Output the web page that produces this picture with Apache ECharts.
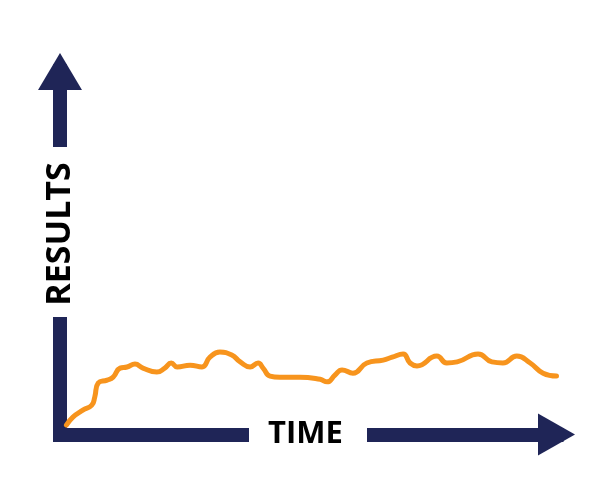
<!DOCTYPE html>
<html>
<head>
<meta charset="utf-8">
<script src="https://cdn.jsdelivr.net/npm/echarts@6/dist/echarts.min.js"></script>
<style>
html,body{margin:0;padding:0;background:#fff;}
#chart{width:610px;height:488px;}
</style>
</head>
<body>
<div id="chart"></div>
<script>
// Data (time units 0-100, results units 0-100)
var timeValues = [1.3, 2.6, 4.6, 6.4, 7.0, 7.7, 9.5, 10.7, 12.1, 13.5, 15.1, 16.7, 19.5, 21.1, 22.4, 23.6, 26.2, 28.6, 30.2, 32.2, 34.6, 36.3, 38.3, 39.9, 40.9, 42.3, 44.3, 48.3, 52.4, 53.8, 55.4, 56.8, 59.0, 61.8, 65.1, 66.9, 69.1, 70.5, 71.9, 75.9, 77.9, 80.0, 84.2, 87.0, 89.2, 92.0, 94.7, 97.3, 100.0];
var resultValues = [2.6, 4.8, 6.7, 8.1, 10.3, 14.2, 15.0, 15.8, 18.3, 18.6, 19.4, 18.3, 17.2, 18.3, 19.7, 18.6, 19.1, 18.6, 21.3, 22.7, 21.9, 20.0, 18.6, 19.7, 18.3, 16.1, 15.8, 15.8, 15.2, 14.5, 16.4, 17.8, 16.9, 19.7, 20.5, 21.3, 22.2, 19.7, 18.9, 21.6, 19.7, 20.0, 22.2, 20.0, 19.7, 21.6, 19.7, 16.9, 16.1];
var xAxisName = 'TIME';
var yAxisName = 'RESULTS';

var navy = '#1f2557';
var orange = '#f7941d';

var seriesData = timeValues.map(function (t, i) { return [t, resultValues[i]]; });

var chart = echarts.init(document.getElementById('chart'), null, {renderer: 'canvas'});
chart.setOption({
  animation: false,
  backgroundColor: '#ffffff',
  grid: {left: 60, right: 53.5, top: 71.5, bottom: 53.5, containLabel: false},
  xAxis: {
    type: 'value', min: 0, max: 100,
    splitLine: {show: false}, axisTick: {show: false}, axisLabel: {show: false},
    axisLine: {show: true, onZero: false, symbol: ['none', 'triangle'], symbolSize: [42, 37],
      lineStyle: {color: navy, width: 14, cap: 'square'}}
  },
  yAxis: {
    type: 'value', min: 0, max: 100,
    splitLine: {show: false}, axisTick: {show: false}, axisLabel: {show: false},
    axisLine: {show: true, onZero: false, symbol: ['none', 'triangle'], symbolSize: [44, 37],
      lineStyle: {color: navy, width: 14, cap: 'square'}}
  },
  series: [{
    type: 'line',
    data: seriesData,
    smooth: 0.5,
    showSymbol: false,
    clip: false,
    lineStyle: {color: orange, width: 5, cap: 'round', join: 'round'},
    z: 5
  }],
  graphic: [
    {type: 'rect', z: 50, shape: {x: 48, y: 147, width: 24, height: 170}, style: {fill: '#ffffff'}},
    {type: 'rect', z: 50, shape: {x: 249, y: 424, width: 118, height: 22}, style: {fill: '#ffffff'}},
    {type: 'text', z: 60, x: 60, y: 234, rotation: Math.PI / 2,
      style: {text: yAxisName, fill: '#000000', font: 'bold 34px "Open Sans"', align: 'center', verticalAlign: 'middle'}},
    {type: 'text', z: 60, x: 305.5, y: 434, 
      style: {text: xAxisName, fill: '#000000', font: 'bold 31px "Open Sans"', align: 'center', verticalAlign: 'middle'}}
  ]
});
</script>
</body>
</html>
